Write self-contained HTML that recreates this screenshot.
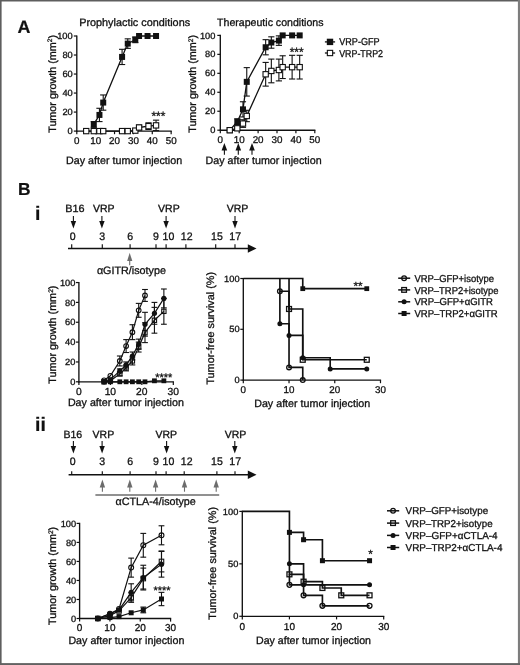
<!DOCTYPE html>
<html lang="en">
<head>
<meta charset="utf-8">
<title>Figure</title>
<style>
html,body{margin:0;padding:0;background:#fff;}
body{width:520px;height:665px;overflow:hidden;}
svg{display:block;font-family:'Liberation Sans', Arial, Helvetica, sans-serif;}
</style>
</head>
<body>
<svg width="520" height="665" viewBox="0 0 520 665" text-rendering="geometricPrecision">
<rect x="0" y="0" width="520" height="665" fill="#fff"/>
<g id="frame">
<rect x="0" y="0" width="520" height="1.5" fill="#5e5e5e"/>
<rect x="0" y="0" width="1.6" height="665" fill="#5e5e5e"/>
<rect x="517.9" y="0" width="2.1" height="665" fill="#7d7d7d"/>
<rect x="0" y="663.1" width="520" height="1.9" fill="#626262"/>
</g>
<text x="17.50" y="32.90" font-size="17.9" text-anchor="start" fill="#111" font-weight="700" stroke="#111" stroke-width="0.2">A</text>
<text x="79.20" y="26.00" font-size="10.7" text-anchor="start" fill="#111" stroke="#111" stroke-width="0.3" textLength="110.9" lengthAdjust="spacingAndGlyphs">Prophylactic conditions</text>
<text x="217.10" y="25.90" font-size="10.7" text-anchor="start" fill="#111" stroke="#111" stroke-width="0.3" textLength="106.4" lengthAdjust="spacingAndGlyphs">Therapeutic conditions</text>
<line x1="76.80" y1="35.40" x2="76.80" y2="131.70" stroke="#111" stroke-width="1.35" stroke-linecap="butt"/>
<line x1="76.20" y1="131.10" x2="171.75" y2="131.10" stroke="#111" stroke-width="1.35" stroke-linecap="butt"/>
<line x1="76.80" y1="131.10" x2="76.80" y2="134.20" stroke="#111" stroke-width="1.2" stroke-linecap="butt"/>
<text transform="translate(76.80,143.60) scale(1.0,1)" font-size="9.8" text-anchor="middle" fill="#111" stroke="#111" stroke-width="0.3">0</text>
<line x1="95.67" y1="131.10" x2="95.67" y2="134.20" stroke="#111" stroke-width="1.2" stroke-linecap="butt"/>
<text transform="translate(95.67,143.60) scale(1.0,1)" font-size="9.8" text-anchor="middle" fill="#111" stroke="#111" stroke-width="0.3">10</text>
<line x1="114.54" y1="131.10" x2="114.54" y2="134.20" stroke="#111" stroke-width="1.2" stroke-linecap="butt"/>
<text transform="translate(114.54,143.60) scale(1.0,1)" font-size="9.8" text-anchor="middle" fill="#111" stroke="#111" stroke-width="0.3">20</text>
<line x1="133.41" y1="131.10" x2="133.41" y2="134.20" stroke="#111" stroke-width="1.2" stroke-linecap="butt"/>
<text transform="translate(133.41,143.60) scale(1.0,1)" font-size="9.8" text-anchor="middle" fill="#111" stroke="#111" stroke-width="0.3">30</text>
<line x1="152.28" y1="131.10" x2="152.28" y2="134.20" stroke="#111" stroke-width="1.2" stroke-linecap="butt"/>
<text transform="translate(152.28,143.60) scale(1.0,1)" font-size="9.8" text-anchor="middle" fill="#111" stroke="#111" stroke-width="0.3">40</text>
<line x1="171.15" y1="131.10" x2="171.15" y2="134.20" stroke="#111" stroke-width="1.2" stroke-linecap="butt"/>
<text transform="translate(171.15,143.60) scale(1.0,1)" font-size="9.8" text-anchor="middle" fill="#111" stroke="#111" stroke-width="0.3">50</text>
<line x1="73.80" y1="131.10" x2="76.80" y2="131.10" stroke="#111" stroke-width="1.2" stroke-linecap="butt"/>
<text transform="translate(72.70,134.20) scale(1.03,1)" font-size="9.0" text-anchor="end" fill="#111" stroke="#111" stroke-width="0.3">0</text>
<line x1="73.80" y1="112.08" x2="76.80" y2="112.08" stroke="#111" stroke-width="1.2" stroke-linecap="butt"/>
<text transform="translate(72.70,115.18) scale(1.03,1)" font-size="9.0" text-anchor="end" fill="#111" stroke="#111" stroke-width="0.3">20</text>
<line x1="73.80" y1="93.06" x2="76.80" y2="93.06" stroke="#111" stroke-width="1.2" stroke-linecap="butt"/>
<text transform="translate(72.70,96.16) scale(1.03,1)" font-size="9.0" text-anchor="end" fill="#111" stroke="#111" stroke-width="0.3">40</text>
<line x1="73.80" y1="74.04" x2="76.80" y2="74.04" stroke="#111" stroke-width="1.2" stroke-linecap="butt"/>
<text transform="translate(72.70,77.14) scale(1.03,1)" font-size="9.0" text-anchor="end" fill="#111" stroke="#111" stroke-width="0.3">60</text>
<line x1="73.80" y1="55.02" x2="76.80" y2="55.02" stroke="#111" stroke-width="1.2" stroke-linecap="butt"/>
<text transform="translate(72.70,58.12) scale(1.03,1)" font-size="9.0" text-anchor="end" fill="#111" stroke="#111" stroke-width="0.3">80</text>
<line x1="73.80" y1="36.00" x2="76.80" y2="36.00" stroke="#111" stroke-width="1.2" stroke-linecap="butt"/>
<text transform="translate(72.70,39.10) scale(1.03,1)" font-size="9.0" text-anchor="end" fill="#111" stroke="#111" stroke-width="0.3">100</text>
<text transform="translate(56.00,132.80) rotate(-90)" font-size="10.7" text-anchor="start" fill="#111" stroke="#111" stroke-width="0.3" textLength="97.8" lengthAdjust="spacingAndGlyphs">Tumor growth (mm<tspan font-size="6.5" dy="-3.6">2</tspan><tspan dy="3.6">)</tspan></text>
<text x="66.10" y="163.90" font-size="10.7" text-anchor="start" fill="#111" stroke="#111" stroke-width="0.3" textLength="116.0" lengthAdjust="spacingAndGlyphs">Day after tumor injection</text>
<polyline points="93.78,124.44 99.44,114.93 103.22,102.57 122.09,56.92 127.75,43.61 135.30,39.80 139.07,36.00 147.56,36.00 156.05,36.00" fill="none" stroke="#111" stroke-width="1.3" stroke-linejoin="miter"/>
<line x1="93.78" y1="121.59" x2="93.78" y2="127.30" stroke="#111" stroke-width="1.1" stroke-linecap="butt"/>
<line x1="90.68" y1="121.59" x2="96.88" y2="121.59" stroke="#111" stroke-width="1.1" stroke-linecap="butt"/>
<line x1="90.68" y1="127.30" x2="96.88" y2="127.30" stroke="#111" stroke-width="1.1" stroke-linecap="butt"/>
<line x1="99.44" y1="108.28" x2="99.44" y2="121.59" stroke="#111" stroke-width="1.1" stroke-linecap="butt"/>
<line x1="96.34" y1="108.28" x2="102.54" y2="108.28" stroke="#111" stroke-width="1.1" stroke-linecap="butt"/>
<line x1="96.34" y1="121.59" x2="102.54" y2="121.59" stroke="#111" stroke-width="1.1" stroke-linecap="butt"/>
<line x1="103.22" y1="94.96" x2="103.22" y2="110.18" stroke="#111" stroke-width="1.1" stroke-linecap="butt"/>
<line x1="100.12" y1="94.96" x2="106.32" y2="94.96" stroke="#111" stroke-width="1.1" stroke-linecap="butt"/>
<line x1="100.12" y1="110.18" x2="106.32" y2="110.18" stroke="#111" stroke-width="1.1" stroke-linecap="butt"/>
<line x1="122.09" y1="49.31" x2="122.09" y2="64.53" stroke="#111" stroke-width="1.1" stroke-linecap="butt"/>
<line x1="118.99" y1="49.31" x2="125.19" y2="49.31" stroke="#111" stroke-width="1.1" stroke-linecap="butt"/>
<line x1="118.99" y1="64.53" x2="125.19" y2="64.53" stroke="#111" stroke-width="1.1" stroke-linecap="butt"/>
<line x1="127.75" y1="38.85" x2="127.75" y2="48.36" stroke="#111" stroke-width="1.1" stroke-linecap="butt"/>
<line x1="124.65" y1="38.85" x2="130.85" y2="38.85" stroke="#111" stroke-width="1.1" stroke-linecap="butt"/>
<line x1="124.65" y1="48.36" x2="130.85" y2="48.36" stroke="#111" stroke-width="1.1" stroke-linecap="butt"/>
<line x1="135.30" y1="36.95" x2="135.30" y2="42.66" stroke="#111" stroke-width="1.1" stroke-linecap="butt"/>
<line x1="132.20" y1="36.95" x2="138.40" y2="36.95" stroke="#111" stroke-width="1.1" stroke-linecap="butt"/>
<line x1="132.20" y1="42.66" x2="138.40" y2="42.66" stroke="#111" stroke-width="1.1" stroke-linecap="butt"/>
<rect x="90.78" y="121.44" width="6.00" height="6.00" fill="#111"/>
<rect x="96.44" y="111.93" width="6.00" height="6.00" fill="#111"/>
<rect x="100.22" y="99.57" width="6.00" height="6.00" fill="#111"/>
<rect x="119.09" y="53.92" width="6.00" height="6.00" fill="#111"/>
<rect x="124.75" y="40.61" width="6.00" height="6.00" fill="#111"/>
<rect x="132.30" y="36.80" width="6.00" height="6.00" fill="#111"/>
<rect x="136.07" y="33.00" width="6.00" height="6.00" fill="#111"/>
<rect x="144.56" y="33.00" width="6.00" height="6.00" fill="#111"/>
<rect x="153.05" y="33.00" width="6.00" height="6.00" fill="#111"/>
<polyline points="86.23,131.10 93.78,131.10 99.44,131.10 103.22,131.10 122.09,131.10 127.75,131.10 135.30,130.62 139.07,127.49 148.51,126.15 156.05,125.39" fill="none" stroke="#111" stroke-width="1.3" stroke-linejoin="miter"/>
<line x1="135.30" y1="129.20" x2="135.30" y2="131.10" stroke="#111" stroke-width="1.1" stroke-linecap="butt"/>
<line x1="132.20" y1="129.20" x2="138.40" y2="129.20" stroke="#111" stroke-width="1.1" stroke-linecap="butt"/>
<line x1="132.20" y1="131.10" x2="138.40" y2="131.10" stroke="#111" stroke-width="1.1" stroke-linecap="butt"/>
<line x1="139.07" y1="125.11" x2="139.07" y2="129.86" stroke="#111" stroke-width="1.1" stroke-linecap="butt"/>
<line x1="135.97" y1="125.11" x2="142.17" y2="125.11" stroke="#111" stroke-width="1.1" stroke-linecap="butt"/>
<line x1="135.97" y1="129.86" x2="142.17" y2="129.86" stroke="#111" stroke-width="1.1" stroke-linecap="butt"/>
<line x1="148.51" y1="122.83" x2="148.51" y2="129.48" stroke="#111" stroke-width="1.1" stroke-linecap="butt"/>
<line x1="145.41" y1="122.83" x2="151.61" y2="122.83" stroke="#111" stroke-width="1.1" stroke-linecap="butt"/>
<line x1="145.41" y1="129.48" x2="151.61" y2="129.48" stroke="#111" stroke-width="1.1" stroke-linecap="butt"/>
<line x1="156.05" y1="120.16" x2="156.05" y2="130.62" stroke="#111" stroke-width="1.1" stroke-linecap="butt"/>
<line x1="152.95" y1="120.16" x2="159.15" y2="120.16" stroke="#111" stroke-width="1.1" stroke-linecap="butt"/>
<line x1="152.95" y1="130.62" x2="159.15" y2="130.62" stroke="#111" stroke-width="1.1" stroke-linecap="butt"/>
<rect x="83.58" y="128.45" width="5.30" height="5.30" fill="#fff" stroke="#111" stroke-width="1.1"/>
<rect x="91.13" y="128.45" width="5.30" height="5.30" fill="#fff" stroke="#111" stroke-width="1.1"/>
<rect x="96.79" y="128.45" width="5.30" height="5.30" fill="#fff" stroke="#111" stroke-width="1.1"/>
<rect x="100.57" y="128.45" width="5.30" height="5.30" fill="#fff" stroke="#111" stroke-width="1.1"/>
<rect x="119.44" y="128.45" width="5.30" height="5.30" fill="#fff" stroke="#111" stroke-width="1.1"/>
<rect x="125.10" y="128.45" width="5.30" height="5.30" fill="#fff" stroke="#111" stroke-width="1.1"/>
<rect x="132.65" y="127.97" width="5.30" height="5.30" fill="#fff" stroke="#111" stroke-width="1.1"/>
<rect x="136.42" y="124.84" width="5.30" height="5.30" fill="#fff" stroke="#111" stroke-width="1.1"/>
<rect x="145.86" y="123.50" width="5.30" height="5.30" fill="#fff" stroke="#111" stroke-width="1.1"/>
<rect x="153.40" y="122.74" width="5.30" height="5.30" fill="#fff" stroke="#111" stroke-width="1.1"/>
<text x="158.40" y="120.30" font-size="12" text-anchor="middle" fill="#111" stroke="#111" stroke-width="0.3">***</text>
<line x1="220.30" y1="34.80" x2="220.30" y2="130.80" stroke="#111" stroke-width="1.35" stroke-linecap="butt"/>
<line x1="219.70" y1="130.20" x2="315.40" y2="130.20" stroke="#111" stroke-width="1.35" stroke-linecap="butt"/>
<line x1="220.30" y1="130.20" x2="220.30" y2="133.30" stroke="#111" stroke-width="1.2" stroke-linecap="butt"/>
<text transform="translate(220.30,142.90) scale(1.0,1)" font-size="9.8" text-anchor="middle" fill="#111" stroke="#111" stroke-width="0.3">0</text>
<line x1="239.20" y1="130.20" x2="239.20" y2="133.30" stroke="#111" stroke-width="1.2" stroke-linecap="butt"/>
<text transform="translate(239.20,142.90) scale(1.0,1)" font-size="9.8" text-anchor="middle" fill="#111" stroke="#111" stroke-width="0.3">10</text>
<line x1="258.10" y1="130.20" x2="258.10" y2="133.30" stroke="#111" stroke-width="1.2" stroke-linecap="butt"/>
<text transform="translate(258.10,142.90) scale(1.0,1)" font-size="9.8" text-anchor="middle" fill="#111" stroke="#111" stroke-width="0.3">20</text>
<line x1="277.00" y1="130.20" x2="277.00" y2="133.30" stroke="#111" stroke-width="1.2" stroke-linecap="butt"/>
<text transform="translate(277.00,142.90) scale(1.0,1)" font-size="9.8" text-anchor="middle" fill="#111" stroke="#111" stroke-width="0.3">30</text>
<line x1="295.90" y1="130.20" x2="295.90" y2="133.30" stroke="#111" stroke-width="1.2" stroke-linecap="butt"/>
<text transform="translate(295.90,142.90) scale(1.0,1)" font-size="9.8" text-anchor="middle" fill="#111" stroke="#111" stroke-width="0.3">40</text>
<line x1="314.80" y1="130.20" x2="314.80" y2="133.30" stroke="#111" stroke-width="1.2" stroke-linecap="butt"/>
<text transform="translate(314.80,142.90) scale(1.0,1)" font-size="9.8" text-anchor="middle" fill="#111" stroke="#111" stroke-width="0.3">50</text>
<line x1="217.30" y1="130.20" x2="220.30" y2="130.20" stroke="#111" stroke-width="1.2" stroke-linecap="butt"/>
<text transform="translate(215.40,133.30) scale(1.03,1)" font-size="9.0" text-anchor="end" fill="#111" stroke="#111" stroke-width="0.3">0</text>
<line x1="217.30" y1="111.24" x2="220.30" y2="111.24" stroke="#111" stroke-width="1.2" stroke-linecap="butt"/>
<text transform="translate(215.40,114.34) scale(1.03,1)" font-size="9.0" text-anchor="end" fill="#111" stroke="#111" stroke-width="0.3">20</text>
<line x1="217.30" y1="92.28" x2="220.30" y2="92.28" stroke="#111" stroke-width="1.2" stroke-linecap="butt"/>
<text transform="translate(215.40,95.38) scale(1.03,1)" font-size="9.0" text-anchor="end" fill="#111" stroke="#111" stroke-width="0.3">40</text>
<line x1="217.30" y1="73.32" x2="220.30" y2="73.32" stroke="#111" stroke-width="1.2" stroke-linecap="butt"/>
<text transform="translate(215.40,76.42) scale(1.03,1)" font-size="9.0" text-anchor="end" fill="#111" stroke="#111" stroke-width="0.3">60</text>
<line x1="217.30" y1="54.36" x2="220.30" y2="54.36" stroke="#111" stroke-width="1.2" stroke-linecap="butt"/>
<text transform="translate(215.40,57.46) scale(1.03,1)" font-size="9.0" text-anchor="end" fill="#111" stroke="#111" stroke-width="0.3">80</text>
<line x1="217.30" y1="35.40" x2="220.30" y2="35.40" stroke="#111" stroke-width="1.2" stroke-linecap="butt"/>
<text transform="translate(215.40,38.50) scale(1.03,1)" font-size="9.0" text-anchor="end" fill="#111" stroke="#111" stroke-width="0.3">100</text>
<text transform="translate(196.40,132.80) rotate(-90)" font-size="10.7" text-anchor="start" fill="#111" stroke="#111" stroke-width="0.3" textLength="97.8" lengthAdjust="spacingAndGlyphs">Tumor growth (mm<tspan font-size="6.5" dy="-3.6">2</tspan><tspan dy="3.6">)</tspan></text>
<text x="205.60" y="164.20" font-size="10.7" text-anchor="start" fill="#111" stroke="#111" stroke-width="0.3" textLength="116.0" lengthAdjust="spacingAndGlyphs">Day after tumor injection</text>
<polyline points="229.75,130.20 237.31,121.67 242.98,109.34 246.76,81.85 265.66,47.25 271.33,42.51 278.89,40.61 282.67,35.40 292.12,35.40 299.68,35.40" fill="none" stroke="#111" stroke-width="1.3" stroke-linejoin="miter"/>
<line x1="237.31" y1="118.82" x2="237.31" y2="124.51" stroke="#111" stroke-width="1.1" stroke-linecap="butt"/>
<line x1="234.21" y1="118.82" x2="240.41" y2="118.82" stroke="#111" stroke-width="1.1" stroke-linecap="butt"/>
<line x1="234.21" y1="124.51" x2="240.41" y2="124.51" stroke="#111" stroke-width="1.1" stroke-linecap="butt"/>
<line x1="242.98" y1="101.76" x2="242.98" y2="116.93" stroke="#111" stroke-width="1.1" stroke-linecap="butt"/>
<line x1="239.88" y1="101.76" x2="246.08" y2="101.76" stroke="#111" stroke-width="1.1" stroke-linecap="butt"/>
<line x1="239.88" y1="116.93" x2="246.08" y2="116.93" stroke="#111" stroke-width="1.1" stroke-linecap="butt"/>
<line x1="246.76" y1="67.63" x2="246.76" y2="96.07" stroke="#111" stroke-width="1.1" stroke-linecap="butt"/>
<line x1="243.66" y1="67.63" x2="249.86" y2="67.63" stroke="#111" stroke-width="1.1" stroke-linecap="butt"/>
<line x1="243.66" y1="96.07" x2="249.86" y2="96.07" stroke="#111" stroke-width="1.1" stroke-linecap="butt"/>
<line x1="265.66" y1="39.67" x2="265.66" y2="54.83" stroke="#111" stroke-width="1.1" stroke-linecap="butt"/>
<line x1="262.56" y1="39.67" x2="268.76" y2="39.67" stroke="#111" stroke-width="1.1" stroke-linecap="butt"/>
<line x1="262.56" y1="54.83" x2="268.76" y2="54.83" stroke="#111" stroke-width="1.1" stroke-linecap="butt"/>
<line x1="271.33" y1="36.82" x2="271.33" y2="48.20" stroke="#111" stroke-width="1.1" stroke-linecap="butt"/>
<line x1="268.23" y1="36.82" x2="274.43" y2="36.82" stroke="#111" stroke-width="1.1" stroke-linecap="butt"/>
<line x1="268.23" y1="48.20" x2="274.43" y2="48.20" stroke="#111" stroke-width="1.1" stroke-linecap="butt"/>
<line x1="278.89" y1="35.87" x2="278.89" y2="45.35" stroke="#111" stroke-width="1.1" stroke-linecap="butt"/>
<line x1="275.79" y1="35.87" x2="281.99" y2="35.87" stroke="#111" stroke-width="1.1" stroke-linecap="butt"/>
<line x1="275.79" y1="45.35" x2="281.99" y2="45.35" stroke="#111" stroke-width="1.1" stroke-linecap="butt"/>
<rect x="226.75" y="127.20" width="6.00" height="6.00" fill="#111"/>
<rect x="234.31" y="118.67" width="6.00" height="6.00" fill="#111"/>
<rect x="239.98" y="106.34" width="6.00" height="6.00" fill="#111"/>
<rect x="243.76" y="78.85" width="6.00" height="6.00" fill="#111"/>
<rect x="262.66" y="44.25" width="6.00" height="6.00" fill="#111"/>
<rect x="268.33" y="39.51" width="6.00" height="6.00" fill="#111"/>
<rect x="275.89" y="37.61" width="6.00" height="6.00" fill="#111"/>
<rect x="279.67" y="32.40" width="6.00" height="6.00" fill="#111"/>
<rect x="289.12" y="32.40" width="6.00" height="6.00" fill="#111"/>
<rect x="296.68" y="32.40" width="6.00" height="6.00" fill="#111"/>
<polyline points="229.75,130.20 237.31,128.30 242.98,123.56 246.76,115.98 265.66,74.27 271.33,70.95 278.89,70.00 282.67,67.16 292.12,67.16 299.68,67.16" fill="none" stroke="#111" stroke-width="1.3" stroke-linejoin="miter"/>
<line x1="237.31" y1="126.41" x2="237.31" y2="130.20" stroke="#111" stroke-width="1.1" stroke-linecap="butt"/>
<line x1="234.21" y1="126.41" x2="240.41" y2="126.41" stroke="#111" stroke-width="1.1" stroke-linecap="butt"/>
<line x1="234.21" y1="130.20" x2="240.41" y2="130.20" stroke="#111" stroke-width="1.1" stroke-linecap="butt"/>
<line x1="242.98" y1="119.77" x2="242.98" y2="127.36" stroke="#111" stroke-width="1.1" stroke-linecap="butt"/>
<line x1="239.88" y1="119.77" x2="246.08" y2="119.77" stroke="#111" stroke-width="1.1" stroke-linecap="butt"/>
<line x1="239.88" y1="127.36" x2="246.08" y2="127.36" stroke="#111" stroke-width="1.1" stroke-linecap="butt"/>
<line x1="246.76" y1="110.29" x2="246.76" y2="121.67" stroke="#111" stroke-width="1.1" stroke-linecap="butt"/>
<line x1="243.66" y1="110.29" x2="249.86" y2="110.29" stroke="#111" stroke-width="1.1" stroke-linecap="butt"/>
<line x1="243.66" y1="121.67" x2="249.86" y2="121.67" stroke="#111" stroke-width="1.1" stroke-linecap="butt"/>
<line x1="265.66" y1="62.42" x2="265.66" y2="86.12" stroke="#111" stroke-width="1.1" stroke-linecap="butt"/>
<line x1="262.56" y1="62.42" x2="268.76" y2="62.42" stroke="#111" stroke-width="1.1" stroke-linecap="butt"/>
<line x1="262.56" y1="86.12" x2="268.76" y2="86.12" stroke="#111" stroke-width="1.1" stroke-linecap="butt"/>
<line x1="271.33" y1="59.10" x2="271.33" y2="82.80" stroke="#111" stroke-width="1.1" stroke-linecap="butt"/>
<line x1="268.23" y1="59.10" x2="274.43" y2="59.10" stroke="#111" stroke-width="1.1" stroke-linecap="butt"/>
<line x1="268.23" y1="82.80" x2="274.43" y2="82.80" stroke="#111" stroke-width="1.1" stroke-linecap="butt"/>
<line x1="278.89" y1="59.10" x2="278.89" y2="80.90" stroke="#111" stroke-width="1.1" stroke-linecap="butt"/>
<line x1="275.79" y1="59.10" x2="281.99" y2="59.10" stroke="#111" stroke-width="1.1" stroke-linecap="butt"/>
<line x1="275.79" y1="80.90" x2="281.99" y2="80.90" stroke="#111" stroke-width="1.1" stroke-linecap="butt"/>
<line x1="282.67" y1="55.78" x2="282.67" y2="78.53" stroke="#111" stroke-width="1.1" stroke-linecap="butt"/>
<line x1="279.57" y1="55.78" x2="285.77" y2="55.78" stroke="#111" stroke-width="1.1" stroke-linecap="butt"/>
<line x1="279.57" y1="78.53" x2="285.77" y2="78.53" stroke="#111" stroke-width="1.1" stroke-linecap="butt"/>
<line x1="292.12" y1="55.31" x2="292.12" y2="79.01" stroke="#111" stroke-width="1.1" stroke-linecap="butt"/>
<line x1="289.02" y1="55.31" x2="295.22" y2="55.31" stroke="#111" stroke-width="1.1" stroke-linecap="butt"/>
<line x1="289.02" y1="79.01" x2="295.22" y2="79.01" stroke="#111" stroke-width="1.1" stroke-linecap="butt"/>
<line x1="299.68" y1="55.31" x2="299.68" y2="79.01" stroke="#111" stroke-width="1.1" stroke-linecap="butt"/>
<line x1="296.58" y1="55.31" x2="302.78" y2="55.31" stroke="#111" stroke-width="1.1" stroke-linecap="butt"/>
<line x1="296.58" y1="79.01" x2="302.78" y2="79.01" stroke="#111" stroke-width="1.1" stroke-linecap="butt"/>
<rect x="227.10" y="127.55" width="5.30" height="5.30" fill="#fff" stroke="#111" stroke-width="1.1"/>
<rect x="234.66" y="125.65" width="5.30" height="5.30" fill="#fff" stroke="#111" stroke-width="1.1"/>
<rect x="240.33" y="120.91" width="5.30" height="5.30" fill="#fff" stroke="#111" stroke-width="1.1"/>
<rect x="244.11" y="113.33" width="5.30" height="5.30" fill="#fff" stroke="#111" stroke-width="1.1"/>
<rect x="263.01" y="71.62" width="5.30" height="5.30" fill="#fff" stroke="#111" stroke-width="1.1"/>
<rect x="268.68" y="68.30" width="5.30" height="5.30" fill="#fff" stroke="#111" stroke-width="1.1"/>
<rect x="276.24" y="67.35" width="5.30" height="5.30" fill="#fff" stroke="#111" stroke-width="1.1"/>
<rect x="280.02" y="64.51" width="5.30" height="5.30" fill="#fff" stroke="#111" stroke-width="1.1"/>
<rect x="289.47" y="64.51" width="5.30" height="5.30" fill="#fff" stroke="#111" stroke-width="1.1"/>
<rect x="297.03" y="64.51" width="5.30" height="5.30" fill="#fff" stroke="#111" stroke-width="1.1"/>
<text x="296.70" y="56.20" font-size="12" text-anchor="middle" fill="#111" stroke="#111" stroke-width="0.3">***</text>
<line x1="224.40" y1="150.10" x2="224.40" y2="154.80" stroke="#111" stroke-width="1.1" stroke-linecap="butt"/>
<polygon points="224.40,143.00 221.60,150.60 227.20,150.60" fill="#111"/>
<line x1="238.30" y1="150.10" x2="238.30" y2="154.80" stroke="#111" stroke-width="1.1" stroke-linecap="butt"/>
<polygon points="238.30,143.00 235.50,150.60 241.10,150.60" fill="#111"/>
<line x1="252.00" y1="150.10" x2="252.00" y2="154.80" stroke="#111" stroke-width="1.1" stroke-linecap="butt"/>
<polygon points="252.00,143.00 249.20,150.60 254.80,150.60" fill="#111"/>
<line x1="324.90" y1="41.90" x2="335.10" y2="41.90" stroke="#111" stroke-width="1.3" stroke-linecap="butt"/>
<rect x="326.80" y="38.70" width="6.40" height="6.40" fill="#111"/>
<text x="339.20" y="45.20" font-size="10.0" text-anchor="start" fill="#111" stroke="#111" stroke-width="0.3" textLength="40.4" lengthAdjust="spacingAndGlyphs">VRP-GFP</text>
<line x1="324.90" y1="53.00" x2="335.10" y2="53.00" stroke="#111" stroke-width="1.3" stroke-linecap="butt"/>
<rect x="327.35" y="50.35" width="5.30" height="5.30" fill="#fff" stroke="#111" stroke-width="1.1"/>
<text x="339.20" y="56.50" font-size="10.0" text-anchor="start" fill="#111" stroke="#111" stroke-width="0.3" textLength="43.8" lengthAdjust="spacingAndGlyphs">VRP-TRP2</text>
<text x="17.90" y="195.40" font-size="17.4" text-anchor="start" fill="#111" font-weight="700" stroke="#111" stroke-width="0.2">B</text>
<text x="34.90" y="220.20" font-size="19.5" text-anchor="start" fill="#111" font-weight="700" stroke="#111" stroke-width="0.2">i</text>
<line x1="68.00" y1="248.50" x2="249.00" y2="248.50" stroke="#111" stroke-width="1.6" stroke-linecap="butt"/>
<polygon points="256.5,248.50 247.8,244.20 247.8,252.80" fill="#111"/>
<line x1="71.70" y1="244.20" x2="71.70" y2="248.50" stroke="#111" stroke-width="1.15" stroke-linecap="butt"/>
<line x1="102.30" y1="244.20" x2="102.30" y2="248.50" stroke="#111" stroke-width="1.15" stroke-linecap="butt"/>
<line x1="130.10" y1="244.20" x2="130.10" y2="248.50" stroke="#111" stroke-width="1.15" stroke-linecap="butt"/>
<line x1="156.00" y1="244.20" x2="156.00" y2="248.50" stroke="#111" stroke-width="1.15" stroke-linecap="butt"/>
<line x1="166.10" y1="244.20" x2="166.10" y2="248.50" stroke="#111" stroke-width="1.15" stroke-linecap="butt"/>
<line x1="185.90" y1="244.20" x2="185.90" y2="248.50" stroke="#111" stroke-width="1.15" stroke-linecap="butt"/>
<line x1="215.70" y1="244.20" x2="215.70" y2="248.50" stroke="#111" stroke-width="1.15" stroke-linecap="butt"/>
<line x1="235.00" y1="244.20" x2="235.00" y2="248.50" stroke="#111" stroke-width="1.15" stroke-linecap="butt"/>
<text transform="translate(72.60,239.90) scale(0.97,1)" font-size="10.9" text-anchor="middle" fill="#111" stroke="#111" stroke-width="0.3">0</text>
<text transform="translate(102.30,239.90) scale(0.97,1)" font-size="10.9" text-anchor="middle" fill="#111" stroke="#111" stroke-width="0.3">3</text>
<text transform="translate(130.10,239.90) scale(0.97,1)" font-size="10.9" text-anchor="middle" fill="#111" stroke="#111" stroke-width="0.3">6</text>
<text transform="translate(156.00,239.90) scale(0.97,1)" font-size="10.9" text-anchor="middle" fill="#111" stroke="#111" stroke-width="0.3">9</text>
<text transform="translate(168.50,239.90) scale(0.97,1)" font-size="10.9" text-anchor="middle" fill="#111" stroke="#111" stroke-width="0.3">10</text>
<text transform="translate(186.70,239.90) scale(0.97,1)" font-size="10.9" text-anchor="middle" fill="#111" stroke="#111" stroke-width="0.3">12</text>
<text transform="translate(216.90,239.90) scale(0.97,1)" font-size="10.9" text-anchor="middle" fill="#111" stroke="#111" stroke-width="0.3">15</text>
<text transform="translate(235.20,239.90) scale(0.97,1)" font-size="10.9" text-anchor="middle" fill="#111" stroke="#111" stroke-width="0.3">17</text>
<text x="65.20" y="211.80" font-size="10.5" text-anchor="start" fill="#111" stroke="#111" stroke-width="0.3" textLength="19.3" lengthAdjust="spacingAndGlyphs">B16</text>
<text x="92.90" y="211.80" font-size="10.5" text-anchor="start" fill="#111" stroke="#111" stroke-width="0.3" textLength="21.6" lengthAdjust="spacingAndGlyphs">VRP</text>
<text x="158.10" y="211.80" font-size="10.5" text-anchor="start" fill="#111" stroke="#111" stroke-width="0.3" textLength="21.6" lengthAdjust="spacingAndGlyphs">VRP</text>
<text x="226.70" y="211.80" font-size="10.5" text-anchor="start" fill="#111" stroke="#111" stroke-width="0.3" textLength="21.6" lengthAdjust="spacingAndGlyphs">VRP</text>
<line x1="73.40" y1="215.90" x2="73.40" y2="221.50" stroke="#111" stroke-width="1.1" stroke-linecap="butt"/>
<polygon points="73.40,228.60 70.70,221.00 76.10,221.00" fill="#111"/>
<line x1="101.90" y1="215.90" x2="101.90" y2="221.50" stroke="#111" stroke-width="1.1" stroke-linecap="butt"/>
<polygon points="101.90,228.60 99.20,221.00 104.60,221.00" fill="#111"/>
<line x1="166.10" y1="215.90" x2="166.10" y2="221.50" stroke="#111" stroke-width="1.1" stroke-linecap="butt"/>
<polygon points="166.10,228.60 163.40,221.00 168.80,221.00" fill="#111"/>
<line x1="235.00" y1="215.90" x2="235.00" y2="221.50" stroke="#111" stroke-width="1.1" stroke-linecap="butt"/>
<polygon points="235.00,228.60 232.30,221.00 237.70,221.00" fill="#111"/>
<line x1="129.70" y1="260.50" x2="129.70" y2="265.30" stroke="#6c6c6c" stroke-width="1.1" stroke-linecap="butt"/>
<polygon points="129.70,252.80 127.10,261.00 132.30,261.00" fill="#6c6c6c"/>
<text x="96.90" y="274.30" font-size="10.7" text-anchor="start" fill="#111" stroke="#111" stroke-width="0.3" textLength="69.0" lengthAdjust="spacingAndGlyphs">αGITR/isotype</text>
<text x="35.00" y="431.00" font-size="19.5" text-anchor="start" fill="#111" font-weight="700" stroke="#111" stroke-width="0.2">ii</text>
<line x1="68.60" y1="474.75" x2="249.00" y2="474.75" stroke="#111" stroke-width="1.6" stroke-linecap="butt"/>
<polygon points="256.5,474.75 247.8,470.45 247.8,479.05" fill="#111"/>
<line x1="71.70" y1="471.15" x2="71.70" y2="474.75" stroke="#111" stroke-width="1.15" stroke-linecap="butt"/>
<line x1="102.30" y1="471.15" x2="102.30" y2="474.75" stroke="#111" stroke-width="1.15" stroke-linecap="butt"/>
<line x1="130.10" y1="471.15" x2="130.10" y2="474.75" stroke="#111" stroke-width="1.15" stroke-linecap="butt"/>
<line x1="156.00" y1="471.15" x2="156.00" y2="474.75" stroke="#111" stroke-width="1.15" stroke-linecap="butt"/>
<line x1="166.10" y1="471.15" x2="166.10" y2="474.75" stroke="#111" stroke-width="1.15" stroke-linecap="butt"/>
<line x1="184.20" y1="471.15" x2="184.20" y2="474.75" stroke="#111" stroke-width="1.15" stroke-linecap="butt"/>
<line x1="216.90" y1="471.15" x2="216.90" y2="474.75" stroke="#111" stroke-width="1.15" stroke-linecap="butt"/>
<line x1="235.00" y1="471.15" x2="235.00" y2="474.75" stroke="#111" stroke-width="1.15" stroke-linecap="butt"/>
<text transform="translate(72.60,464.80) scale(0.97,1)" font-size="10.9" text-anchor="middle" fill="#111" stroke="#111" stroke-width="0.3">0</text>
<text transform="translate(102.30,464.80) scale(0.97,1)" font-size="10.9" text-anchor="middle" fill="#111" stroke="#111" stroke-width="0.3">3</text>
<text transform="translate(130.10,464.80) scale(0.97,1)" font-size="10.9" text-anchor="middle" fill="#111" stroke="#111" stroke-width="0.3">6</text>
<text transform="translate(156.00,464.80) scale(0.97,1)" font-size="10.9" text-anchor="middle" fill="#111" stroke="#111" stroke-width="0.3">9</text>
<text transform="translate(168.50,464.80) scale(0.97,1)" font-size="10.9" text-anchor="middle" fill="#111" stroke="#111" stroke-width="0.3">10</text>
<text transform="translate(186.70,464.80) scale(0.97,1)" font-size="10.9" text-anchor="middle" fill="#111" stroke="#111" stroke-width="0.3">12</text>
<text transform="translate(216.90,464.80) scale(0.97,1)" font-size="10.9" text-anchor="middle" fill="#111" stroke="#111" stroke-width="0.3">15</text>
<text transform="translate(235.20,464.80) scale(0.97,1)" font-size="10.9" text-anchor="middle" fill="#111" stroke="#111" stroke-width="0.3">17</text>
<text x="63.40" y="437.70" font-size="10.5" text-anchor="start" fill="#111" stroke="#111" stroke-width="0.3" textLength="18.8" lengthAdjust="spacingAndGlyphs">B16</text>
<text x="92.60" y="437.70" font-size="10.5" text-anchor="start" fill="#111" stroke="#111" stroke-width="0.3" textLength="21.6" lengthAdjust="spacingAndGlyphs">VRP</text>
<text x="155.50" y="437.70" font-size="10.5" text-anchor="start" fill="#111" stroke="#111" stroke-width="0.3" textLength="21.6" lengthAdjust="spacingAndGlyphs">VRP</text>
<text x="224.70" y="437.70" font-size="10.5" text-anchor="start" fill="#111" stroke="#111" stroke-width="0.3" textLength="21.6" lengthAdjust="spacingAndGlyphs">VRP</text>
<line x1="73.40" y1="440.90" x2="73.40" y2="446.50" stroke="#111" stroke-width="1.1" stroke-linecap="butt"/>
<polygon points="73.40,453.60 70.70,446.00 76.10,446.00" fill="#111"/>
<line x1="102.10" y1="440.90" x2="102.10" y2="446.50" stroke="#111" stroke-width="1.1" stroke-linecap="butt"/>
<polygon points="102.10,453.60 99.40,446.00 104.80,446.00" fill="#111"/>
<line x1="166.60" y1="440.90" x2="166.60" y2="446.50" stroke="#111" stroke-width="1.1" stroke-linecap="butt"/>
<polygon points="166.60,453.60 163.90,446.00 169.30,446.00" fill="#111"/>
<line x1="234.80" y1="440.90" x2="234.80" y2="446.50" stroke="#111" stroke-width="1.1" stroke-linecap="butt"/>
<polygon points="234.80,453.60 232.10,446.00 237.50,446.00" fill="#111"/>
<line x1="102.40" y1="486.90" x2="102.40" y2="491.70" stroke="#6c6c6c" stroke-width="1.1" stroke-linecap="butt"/>
<polygon points="102.40,479.60 99.70,487.40 105.10,487.40" fill="#6c6c6c"/>
<line x1="129.80" y1="486.90" x2="129.80" y2="491.70" stroke="#6c6c6c" stroke-width="1.1" stroke-linecap="butt"/>
<polygon points="129.80,479.60 127.10,487.40 132.50,487.40" fill="#6c6c6c"/>
<line x1="155.60" y1="486.90" x2="155.60" y2="491.70" stroke="#6c6c6c" stroke-width="1.1" stroke-linecap="butt"/>
<polygon points="155.60,479.60 152.90,487.40 158.30,487.40" fill="#6c6c6c"/>
<line x1="184.50" y1="486.90" x2="184.50" y2="491.70" stroke="#6c6c6c" stroke-width="1.1" stroke-linecap="butt"/>
<polygon points="184.50,479.60 181.80,487.40 187.20,487.40" fill="#6c6c6c"/>
<line x1="216.20" y1="486.90" x2="216.20" y2="491.70" stroke="#6c6c6c" stroke-width="1.1" stroke-linecap="butt"/>
<polygon points="216.20,479.60 213.50,487.40 218.90,487.40" fill="#6c6c6c"/>
<line x1="95.40" y1="495.00" x2="219.20" y2="495.00" stroke="#6c6c6c" stroke-width="1.4" stroke-linecap="butt"/>
<text x="115.60" y="505.00" font-size="10.7" text-anchor="start" fill="#111" stroke="#111" stroke-width="0.3" textLength="80.2" lengthAdjust="spacingAndGlyphs">αCTLA-4/isotype</text>
<line x1="78.90" y1="281.95" x2="78.90" y2="382.40" stroke="#111" stroke-width="1.35" stroke-linecap="butt"/>
<line x1="78.30" y1="381.80" x2="173.91" y2="381.80" stroke="#111" stroke-width="1.35" stroke-linecap="butt"/>
<line x1="78.90" y1="381.80" x2="78.90" y2="384.90" stroke="#111" stroke-width="1.2" stroke-linecap="butt"/>
<text transform="translate(78.90,394.70) scale(1.0,1)" font-size="10.3" text-anchor="middle" fill="#111" stroke="#111" stroke-width="0.3">0</text>
<line x1="110.37" y1="381.80" x2="110.37" y2="384.90" stroke="#111" stroke-width="1.2" stroke-linecap="butt"/>
<text transform="translate(110.37,394.70) scale(1.0,1)" font-size="10.3" text-anchor="middle" fill="#111" stroke="#111" stroke-width="0.3">10</text>
<line x1="141.84" y1="381.80" x2="141.84" y2="384.90" stroke="#111" stroke-width="1.2" stroke-linecap="butt"/>
<text transform="translate(141.84,394.70) scale(1.0,1)" font-size="10.3" text-anchor="middle" fill="#111" stroke="#111" stroke-width="0.3">20</text>
<line x1="173.31" y1="381.80" x2="173.31" y2="384.90" stroke="#111" stroke-width="1.2" stroke-linecap="butt"/>
<text transform="translate(173.31,394.70) scale(1.0,1)" font-size="10.3" text-anchor="middle" fill="#111" stroke="#111" stroke-width="0.3">30</text>
<line x1="75.90" y1="381.80" x2="78.90" y2="381.80" stroke="#111" stroke-width="1.2" stroke-linecap="butt"/>
<text transform="translate(75.40,384.90) scale(1.03,1)" font-size="9.0" text-anchor="end" fill="#111" stroke="#111" stroke-width="0.3">0</text>
<line x1="75.90" y1="361.95" x2="78.90" y2="361.95" stroke="#111" stroke-width="1.2" stroke-linecap="butt"/>
<text transform="translate(75.40,365.05) scale(1.03,1)" font-size="9.0" text-anchor="end" fill="#111" stroke="#111" stroke-width="0.3">20</text>
<line x1="75.90" y1="342.10" x2="78.90" y2="342.10" stroke="#111" stroke-width="1.2" stroke-linecap="butt"/>
<text transform="translate(75.40,345.20) scale(1.03,1)" font-size="9.0" text-anchor="end" fill="#111" stroke="#111" stroke-width="0.3">40</text>
<line x1="75.90" y1="322.25" x2="78.90" y2="322.25" stroke="#111" stroke-width="1.2" stroke-linecap="butt"/>
<text transform="translate(75.40,325.35) scale(1.03,1)" font-size="9.0" text-anchor="end" fill="#111" stroke="#111" stroke-width="0.3">60</text>
<line x1="75.90" y1="302.40" x2="78.90" y2="302.40" stroke="#111" stroke-width="1.2" stroke-linecap="butt"/>
<text transform="translate(75.40,305.50) scale(1.03,1)" font-size="9.0" text-anchor="end" fill="#111" stroke="#111" stroke-width="0.3">80</text>
<line x1="75.90" y1="282.55" x2="78.90" y2="282.55" stroke="#111" stroke-width="1.2" stroke-linecap="butt"/>
<text transform="translate(75.40,285.65) scale(1.03,1)" font-size="9.0" text-anchor="end" fill="#111" stroke="#111" stroke-width="0.3">100</text>
<text transform="translate(56.40,383.70) rotate(-90)" font-size="10.7" text-anchor="start" fill="#111" stroke="#111" stroke-width="0.3" textLength="98.1" lengthAdjust="spacingAndGlyphs">Tumor growth (mm<tspan font-size="6.5" dy="-3.6">2</tspan><tspan dy="3.6">)</tspan></text>
<text x="67.90" y="406.40" font-size="10.7" text-anchor="start" fill="#111" stroke="#111" stroke-width="0.3" textLength="116.0" lengthAdjust="spacingAndGlyphs">Day after tumor injection</text>
<polyline points="104.08,380.31 110.37,375.85 119.81,360.96 126.11,346.07 132.40,332.18 138.69,310.34 144.99,295.45" fill="none" stroke="#111" stroke-width="1.2" stroke-linejoin="miter"/>
<line x1="119.81" y1="356.00" x2="119.81" y2="365.92" stroke="#111" stroke-width="1.1" stroke-linecap="butt"/>
<line x1="116.91" y1="356.00" x2="122.71" y2="356.00" stroke="#111" stroke-width="1.1" stroke-linecap="butt"/>
<line x1="116.91" y1="365.92" x2="122.71" y2="365.92" stroke="#111" stroke-width="1.1" stroke-linecap="butt"/>
<line x1="126.11" y1="339.62" x2="126.11" y2="352.52" stroke="#111" stroke-width="1.1" stroke-linecap="butt"/>
<line x1="123.20" y1="339.62" x2="129.00" y2="339.62" stroke="#111" stroke-width="1.1" stroke-linecap="butt"/>
<line x1="123.20" y1="352.52" x2="129.00" y2="352.52" stroke="#111" stroke-width="1.1" stroke-linecap="butt"/>
<line x1="132.40" y1="324.73" x2="132.40" y2="339.62" stroke="#111" stroke-width="1.1" stroke-linecap="butt"/>
<line x1="129.50" y1="324.73" x2="135.30" y2="324.73" stroke="#111" stroke-width="1.1" stroke-linecap="butt"/>
<line x1="129.50" y1="339.62" x2="135.30" y2="339.62" stroke="#111" stroke-width="1.1" stroke-linecap="butt"/>
<line x1="138.69" y1="303.39" x2="138.69" y2="317.29" stroke="#111" stroke-width="1.1" stroke-linecap="butt"/>
<line x1="135.79" y1="303.39" x2="141.59" y2="303.39" stroke="#111" stroke-width="1.1" stroke-linecap="butt"/>
<line x1="135.79" y1="317.29" x2="141.59" y2="317.29" stroke="#111" stroke-width="1.1" stroke-linecap="butt"/>
<line x1="144.99" y1="289.50" x2="144.99" y2="301.41" stroke="#111" stroke-width="1.1" stroke-linecap="butt"/>
<line x1="142.09" y1="289.50" x2="147.89" y2="289.50" stroke="#111" stroke-width="1.1" stroke-linecap="butt"/>
<line x1="142.09" y1="301.41" x2="147.89" y2="301.41" stroke="#111" stroke-width="1.1" stroke-linecap="butt"/>
<circle cx="104.08" cy="380.31" r="2.35" fill="none" stroke="#111" stroke-width="1.1"/>
<circle cx="110.37" cy="375.85" r="2.35" fill="none" stroke="#111" stroke-width="1.1"/>
<circle cx="119.81" cy="360.96" r="2.35" fill="none" stroke="#111" stroke-width="1.1"/>
<circle cx="126.11" cy="346.07" r="2.35" fill="none" stroke="#111" stroke-width="1.1"/>
<circle cx="132.40" cy="332.18" r="2.35" fill="none" stroke="#111" stroke-width="1.1"/>
<circle cx="138.69" cy="310.34" r="2.35" fill="none" stroke="#111" stroke-width="1.1"/>
<circle cx="144.99" cy="295.45" r="2.35" fill="none" stroke="#111" stroke-width="1.1"/>
<polyline points="104.08,381.80 110.37,380.81 119.81,373.86 126.11,367.91 132.40,360.96 138.69,347.06 144.99,332.67 154.43,320.26 163.87,311.33" fill="none" stroke="#111" stroke-width="1.2" stroke-linejoin="miter"/>
<line x1="119.81" y1="371.88" x2="119.81" y2="375.85" stroke="#111" stroke-width="1.1" stroke-linecap="butt"/>
<line x1="116.91" y1="371.88" x2="122.71" y2="371.88" stroke="#111" stroke-width="1.1" stroke-linecap="butt"/>
<line x1="116.91" y1="375.85" x2="122.71" y2="375.85" stroke="#111" stroke-width="1.1" stroke-linecap="butt"/>
<line x1="126.11" y1="364.93" x2="126.11" y2="370.88" stroke="#111" stroke-width="1.1" stroke-linecap="butt"/>
<line x1="123.20" y1="364.93" x2="129.00" y2="364.93" stroke="#111" stroke-width="1.1" stroke-linecap="butt"/>
<line x1="123.20" y1="370.88" x2="129.00" y2="370.88" stroke="#111" stroke-width="1.1" stroke-linecap="butt"/>
<line x1="132.40" y1="356.99" x2="132.40" y2="364.93" stroke="#111" stroke-width="1.1" stroke-linecap="butt"/>
<line x1="129.50" y1="356.99" x2="135.30" y2="356.99" stroke="#111" stroke-width="1.1" stroke-linecap="butt"/>
<line x1="129.50" y1="364.93" x2="135.30" y2="364.93" stroke="#111" stroke-width="1.1" stroke-linecap="butt"/>
<line x1="138.69" y1="342.10" x2="138.69" y2="352.03" stroke="#111" stroke-width="1.1" stroke-linecap="butt"/>
<line x1="135.79" y1="342.10" x2="141.59" y2="342.10" stroke="#111" stroke-width="1.1" stroke-linecap="butt"/>
<line x1="135.79" y1="352.03" x2="141.59" y2="352.03" stroke="#111" stroke-width="1.1" stroke-linecap="butt"/>
<line x1="144.99" y1="322.75" x2="144.99" y2="342.60" stroke="#111" stroke-width="1.1" stroke-linecap="butt"/>
<line x1="142.09" y1="322.75" x2="147.89" y2="322.75" stroke="#111" stroke-width="1.1" stroke-linecap="butt"/>
<line x1="142.09" y1="342.60" x2="147.89" y2="342.60" stroke="#111" stroke-width="1.1" stroke-linecap="butt"/>
<line x1="154.43" y1="307.36" x2="154.43" y2="333.17" stroke="#111" stroke-width="1.1" stroke-linecap="butt"/>
<line x1="151.53" y1="307.36" x2="157.33" y2="307.36" stroke="#111" stroke-width="1.1" stroke-linecap="butt"/>
<line x1="151.53" y1="333.17" x2="157.33" y2="333.17" stroke="#111" stroke-width="1.1" stroke-linecap="butt"/>
<line x1="163.87" y1="298.43" x2="163.87" y2="324.24" stroke="#111" stroke-width="1.1" stroke-linecap="butt"/>
<line x1="160.97" y1="298.43" x2="166.77" y2="298.43" stroke="#111" stroke-width="1.1" stroke-linecap="butt"/>
<line x1="160.97" y1="324.24" x2="166.77" y2="324.24" stroke="#111" stroke-width="1.1" stroke-linecap="butt"/>
<rect x="101.93" y="379.65" width="4.30" height="4.30" fill="none" stroke="#111" stroke-width="1.1"/>
<rect x="108.22" y="378.66" width="4.30" height="4.30" fill="none" stroke="#111" stroke-width="1.1"/>
<rect x="117.66" y="371.71" width="4.30" height="4.30" fill="none" stroke="#111" stroke-width="1.1"/>
<rect x="123.95" y="365.76" width="4.30" height="4.30" fill="none" stroke="#111" stroke-width="1.1"/>
<rect x="130.25" y="358.81" width="4.30" height="4.30" fill="none" stroke="#111" stroke-width="1.1"/>
<rect x="136.54" y="344.91" width="4.30" height="4.30" fill="none" stroke="#111" stroke-width="1.1"/>
<rect x="142.84" y="330.52" width="4.30" height="4.30" fill="none" stroke="#111" stroke-width="1.1"/>
<rect x="152.28" y="318.12" width="4.30" height="4.30" fill="none" stroke="#111" stroke-width="1.1"/>
<rect x="161.72" y="309.18" width="4.30" height="4.30" fill="none" stroke="#111" stroke-width="1.1"/>
<polyline points="104.08,381.80 110.37,379.81 119.81,370.88 126.11,364.93 132.40,356.00 138.69,344.09 144.99,324.24 154.43,313.32 163.87,298.43" fill="none" stroke="#111" stroke-width="1.2" stroke-linejoin="miter"/>
<line x1="119.81" y1="368.90" x2="119.81" y2="372.87" stroke="#111" stroke-width="1.1" stroke-linecap="butt"/>
<line x1="116.91" y1="368.90" x2="122.71" y2="368.90" stroke="#111" stroke-width="1.1" stroke-linecap="butt"/>
<line x1="116.91" y1="372.87" x2="122.71" y2="372.87" stroke="#111" stroke-width="1.1" stroke-linecap="butt"/>
<line x1="126.11" y1="361.95" x2="126.11" y2="367.91" stroke="#111" stroke-width="1.1" stroke-linecap="butt"/>
<line x1="123.20" y1="361.95" x2="129.00" y2="361.95" stroke="#111" stroke-width="1.1" stroke-linecap="butt"/>
<line x1="123.20" y1="367.91" x2="129.00" y2="367.91" stroke="#111" stroke-width="1.1" stroke-linecap="butt"/>
<line x1="132.40" y1="352.03" x2="132.40" y2="359.97" stroke="#111" stroke-width="1.1" stroke-linecap="butt"/>
<line x1="129.50" y1="352.03" x2="135.30" y2="352.03" stroke="#111" stroke-width="1.1" stroke-linecap="butt"/>
<line x1="129.50" y1="359.97" x2="135.30" y2="359.97" stroke="#111" stroke-width="1.1" stroke-linecap="butt"/>
<line x1="138.69" y1="339.12" x2="138.69" y2="349.05" stroke="#111" stroke-width="1.1" stroke-linecap="butt"/>
<line x1="135.79" y1="339.12" x2="141.59" y2="339.12" stroke="#111" stroke-width="1.1" stroke-linecap="butt"/>
<line x1="135.79" y1="349.05" x2="141.59" y2="349.05" stroke="#111" stroke-width="1.1" stroke-linecap="butt"/>
<line x1="144.99" y1="312.32" x2="144.99" y2="336.14" stroke="#111" stroke-width="1.1" stroke-linecap="butt"/>
<line x1="142.09" y1="312.32" x2="147.89" y2="312.32" stroke="#111" stroke-width="1.1" stroke-linecap="butt"/>
<line x1="142.09" y1="336.14" x2="147.89" y2="336.14" stroke="#111" stroke-width="1.1" stroke-linecap="butt"/>
<line x1="154.43" y1="302.40" x2="154.43" y2="324.24" stroke="#111" stroke-width="1.1" stroke-linecap="butt"/>
<line x1="151.53" y1="302.40" x2="157.33" y2="302.40" stroke="#111" stroke-width="1.1" stroke-linecap="butt"/>
<line x1="151.53" y1="324.24" x2="157.33" y2="324.24" stroke="#111" stroke-width="1.1" stroke-linecap="butt"/>
<line x1="163.87" y1="289.00" x2="163.87" y2="307.86" stroke="#111" stroke-width="1.1" stroke-linecap="butt"/>
<line x1="160.97" y1="289.00" x2="166.77" y2="289.00" stroke="#111" stroke-width="1.1" stroke-linecap="butt"/>
<line x1="160.97" y1="307.86" x2="166.77" y2="307.86" stroke="#111" stroke-width="1.1" stroke-linecap="butt"/>
<circle cx="104.08" cy="381.80" r="2.60" fill="#111"/>
<circle cx="110.37" cy="379.81" r="2.60" fill="#111"/>
<circle cx="119.81" cy="370.88" r="2.60" fill="#111"/>
<circle cx="126.11" cy="364.93" r="2.60" fill="#111"/>
<circle cx="132.40" cy="356.00" r="2.60" fill="#111"/>
<circle cx="138.69" cy="344.09" r="2.60" fill="#111"/>
<circle cx="144.99" cy="324.24" r="2.60" fill="#111"/>
<circle cx="154.43" cy="313.32" r="2.60" fill="#111"/>
<circle cx="163.87" cy="298.43" r="2.60" fill="#111"/>
<polyline points="104.08,381.80 110.37,381.80 119.81,381.80 126.11,381.80 132.40,381.80 138.69,381.80 144.99,381.80 154.43,380.81 163.87,380.81" fill="none" stroke="#111" stroke-width="1.2" stroke-linejoin="miter"/>
<rect x="101.68" y="379.40" width="4.80" height="4.80" fill="#111"/>
<rect x="107.97" y="379.40" width="4.80" height="4.80" fill="#111"/>
<rect x="117.41" y="379.40" width="4.80" height="4.80" fill="#111"/>
<rect x="123.70" y="379.40" width="4.80" height="4.80" fill="#111"/>
<rect x="130.00" y="379.40" width="4.80" height="4.80" fill="#111"/>
<rect x="136.29" y="379.40" width="4.80" height="4.80" fill="#111"/>
<rect x="142.59" y="379.40" width="4.80" height="4.80" fill="#111"/>
<rect x="152.03" y="378.41" width="4.80" height="4.80" fill="#111"/>
<rect x="161.47" y="378.41" width="4.80" height="4.80" fill="#111"/>
<text x="163.70" y="380.50" font-size="11" text-anchor="middle" fill="#111" stroke="#111" stroke-width="0.3">****</text>
<line x1="243.30" y1="277.90" x2="243.30" y2="380.70" stroke="#111" stroke-width="1.35" stroke-linecap="butt"/>
<line x1="242.70" y1="380.10" x2="381.09" y2="380.10" stroke="#111" stroke-width="1.35" stroke-linecap="butt"/>
<line x1="243.30" y1="380.10" x2="243.30" y2="383.20" stroke="#111" stroke-width="1.2" stroke-linecap="butt"/>
<text transform="translate(243.30,392.90) scale(1.0,1)" font-size="9.8" text-anchor="middle" fill="#111" stroke="#111" stroke-width="0.3">0</text>
<line x1="289.03" y1="380.10" x2="289.03" y2="383.20" stroke="#111" stroke-width="1.2" stroke-linecap="butt"/>
<text transform="translate(289.03,392.90) scale(1.0,1)" font-size="9.8" text-anchor="middle" fill="#111" stroke="#111" stroke-width="0.3">10</text>
<line x1="334.76" y1="380.10" x2="334.76" y2="383.20" stroke="#111" stroke-width="1.2" stroke-linecap="butt"/>
<text transform="translate(334.76,392.90) scale(1.0,1)" font-size="9.8" text-anchor="middle" fill="#111" stroke="#111" stroke-width="0.3">20</text>
<line x1="380.49" y1="380.10" x2="380.49" y2="383.20" stroke="#111" stroke-width="1.2" stroke-linecap="butt"/>
<text transform="translate(380.49,392.90) scale(1.0,1)" font-size="9.8" text-anchor="middle" fill="#111" stroke="#111" stroke-width="0.3">30</text>
<line x1="240.30" y1="380.10" x2="243.30" y2="380.10" stroke="#111" stroke-width="1.2" stroke-linecap="butt"/>
<text transform="translate(239.60,383.20) scale(1.03,1)" font-size="9.0" text-anchor="end" fill="#111" stroke="#111" stroke-width="0.3">0</text>
<line x1="240.30" y1="329.30" x2="243.30" y2="329.30" stroke="#111" stroke-width="1.2" stroke-linecap="butt"/>
<text transform="translate(239.60,332.40) scale(1.03,1)" font-size="9.0" text-anchor="end" fill="#111" stroke="#111" stroke-width="0.3">50</text>
<line x1="240.30" y1="278.50" x2="243.30" y2="278.50" stroke="#111" stroke-width="1.2" stroke-linecap="butt"/>
<text transform="translate(239.60,281.60) scale(1.03,1)" font-size="9.0" text-anchor="end" fill="#111" stroke="#111" stroke-width="0.3">100</text>
<text transform="translate(213.80,384.60) rotate(-90)" font-size="10.7" text-anchor="start" fill="#111" stroke="#111" stroke-width="0.3" textLength="112.6" lengthAdjust="spacingAndGlyphs">Tumor-free survival (%)</text>
<text x="254.20" y="407.20" font-size="10.7" text-anchor="start" fill="#111" stroke="#111" stroke-width="0.3" textLength="116.0" lengthAdjust="spacingAndGlyphs">Day after tumor injection</text>
<polyline points="243.30,278.50 302.75,278.50 302.75,288.66 366.77,288.66 366.77,288.66" fill="none" stroke="#111" stroke-width="1.65" stroke-linejoin="miter"/>
<rect x="300.35" y="286.26" width="4.80" height="4.80" fill="#111"/>
<rect x="364.37" y="286.26" width="4.80" height="4.80" fill="#111"/>
<polyline points="289.03,278.50 289.03,278.50 289.03,308.98 302.75,308.98 302.75,359.78 366.77,359.78 366.77,359.78" fill="none" stroke="#111" stroke-width="1.65" stroke-linejoin="miter"/>
<rect x="286.58" y="306.53" width="4.90" height="4.90" fill="none" stroke="#111" stroke-width="1.3"/>
<rect x="300.30" y="357.33" width="4.90" height="4.90" fill="none" stroke="#111" stroke-width="1.3"/>
<rect x="364.32" y="357.33" width="4.90" height="4.90" fill="none" stroke="#111" stroke-width="1.3"/>
<polyline points="279.88,278.50 279.88,278.50 279.88,323.71 289.03,323.71 289.03,335.40 302.75,335.40 302.75,357.75 330.19,357.75 330.19,368.92 366.77,368.92 366.77,368.92" fill="none" stroke="#111" stroke-width="1.65" stroke-linejoin="miter"/>
<circle cx="279.88" cy="323.71" r="2.50" fill="#111"/>
<circle cx="289.03" cy="335.40" r="2.50" fill="#111"/>
<circle cx="302.75" cy="357.75" r="2.50" fill="#111"/>
<circle cx="330.19" cy="368.92" r="2.50" fill="#111"/>
<circle cx="366.77" cy="368.92" r="2.50" fill="#111"/>
<polyline points="279.88,291.20 279.88,291.20 279.88,291.20 289.03,291.20 289.03,367.40 302.75,367.40 302.75,380.10" fill="none" stroke="#111" stroke-width="1.65" stroke-linejoin="miter"/>
<circle cx="279.88" cy="291.20" r="2.35" fill="none" stroke="#111" stroke-width="1.3"/>
<circle cx="289.03" cy="367.40" r="2.35" fill="none" stroke="#111" stroke-width="1.3"/>
<circle cx="302.75" cy="380.10" r="2.35" fill="none" stroke="#111" stroke-width="1.3"/>
<text x="358.10" y="290.10" font-size="11.8" text-anchor="middle" fill="#111" stroke="#111" stroke-width="0.3">**</text>
<line x1="398.20" y1="278.20" x2="410.20" y2="278.20" stroke="#111" stroke-width="1.5" stroke-linecap="butt"/>
<circle cx="404.10" cy="278.20" r="2.35" fill="none" stroke="#111" stroke-width="1.3"/>
<text x="414.50" y="281.80" font-size="10.0" text-anchor="start" fill="#111" stroke="#111" stroke-width="0.3" textLength="79.5" lengthAdjust="spacingAndGlyphs">VRP–GFP+isotype</text>
<line x1="398.20" y1="289.90" x2="410.20" y2="289.90" stroke="#111" stroke-width="1.5" stroke-linecap="butt"/>
<rect x="401.75" y="287.55" width="4.70" height="4.70" fill="none" stroke="#111" stroke-width="1.3"/>
<text x="414.50" y="293.50" font-size="10.0" text-anchor="start" fill="#111" stroke="#111" stroke-width="0.3" textLength="84.0" lengthAdjust="spacingAndGlyphs">VRP–TRP2+isotype</text>
<line x1="398.20" y1="301.80" x2="410.20" y2="301.80" stroke="#111" stroke-width="1.5" stroke-linecap="butt"/>
<circle cx="404.10" cy="301.80" r="2.50" fill="#111"/>
<text x="414.50" y="305.40" font-size="10.0" text-anchor="start" fill="#111" stroke="#111" stroke-width="0.3" textLength="78.5" lengthAdjust="spacingAndGlyphs">VRP–GFP+αGITR</text>
<line x1="398.20" y1="313.50" x2="410.20" y2="313.50" stroke="#111" stroke-width="1.5" stroke-linecap="butt"/>
<rect x="401.60" y="311.00" width="5.00" height="5.00" fill="#111"/>
<text x="414.50" y="317.10" font-size="10.0" text-anchor="start" fill="#111" stroke="#111" stroke-width="0.3" textLength="83.2" lengthAdjust="spacingAndGlyphs">VRP–TRP2+αGITR</text>
<line x1="79.60" y1="522.80" x2="79.60" y2="619.10" stroke="#111" stroke-width="1.35" stroke-linecap="butt"/>
<line x1="79.00" y1="618.50" x2="171.19" y2="618.50" stroke="#111" stroke-width="1.35" stroke-linecap="butt"/>
<line x1="79.60" y1="618.50" x2="79.60" y2="621.60" stroke="#111" stroke-width="1.2" stroke-linecap="butt"/>
<text transform="translate(79.60,630.90) scale(1.0,1)" font-size="10.0" text-anchor="middle" fill="#111" stroke="#111" stroke-width="0.3">0</text>
<line x1="109.93" y1="618.50" x2="109.93" y2="621.60" stroke="#111" stroke-width="1.2" stroke-linecap="butt"/>
<text transform="translate(109.93,630.90) scale(1.0,1)" font-size="10.0" text-anchor="middle" fill="#111" stroke="#111" stroke-width="0.3">10</text>
<line x1="140.26" y1="618.50" x2="140.26" y2="621.60" stroke="#111" stroke-width="1.2" stroke-linecap="butt"/>
<text transform="translate(140.26,630.90) scale(1.0,1)" font-size="10.0" text-anchor="middle" fill="#111" stroke="#111" stroke-width="0.3">20</text>
<line x1="170.59" y1="618.50" x2="170.59" y2="621.60" stroke="#111" stroke-width="1.2" stroke-linecap="butt"/>
<text transform="translate(170.59,630.90) scale(1.0,1)" font-size="10.0" text-anchor="middle" fill="#111" stroke="#111" stroke-width="0.3">30</text>
<line x1="76.60" y1="618.50" x2="79.60" y2="618.50" stroke="#111" stroke-width="1.2" stroke-linecap="butt"/>
<text transform="translate(76.20,621.60) scale(1.03,1)" font-size="9.0" text-anchor="end" fill="#111" stroke="#111" stroke-width="0.3">0</text>
<line x1="76.60" y1="599.48" x2="79.60" y2="599.48" stroke="#111" stroke-width="1.2" stroke-linecap="butt"/>
<text transform="translate(76.20,602.58) scale(1.03,1)" font-size="9.0" text-anchor="end" fill="#111" stroke="#111" stroke-width="0.3">20</text>
<line x1="76.60" y1="580.46" x2="79.60" y2="580.46" stroke="#111" stroke-width="1.2" stroke-linecap="butt"/>
<text transform="translate(76.20,583.56) scale(1.03,1)" font-size="9.0" text-anchor="end" fill="#111" stroke="#111" stroke-width="0.3">40</text>
<line x1="76.60" y1="561.44" x2="79.60" y2="561.44" stroke="#111" stroke-width="1.2" stroke-linecap="butt"/>
<text transform="translate(76.20,564.54) scale(1.03,1)" font-size="9.0" text-anchor="end" fill="#111" stroke="#111" stroke-width="0.3">60</text>
<line x1="76.60" y1="542.42" x2="79.60" y2="542.42" stroke="#111" stroke-width="1.2" stroke-linecap="butt"/>
<text transform="translate(76.20,545.52) scale(1.03,1)" font-size="9.0" text-anchor="end" fill="#111" stroke="#111" stroke-width="0.3">80</text>
<line x1="76.60" y1="523.40" x2="79.60" y2="523.40" stroke="#111" stroke-width="1.2" stroke-linecap="butt"/>
<text transform="translate(76.20,526.50) scale(1.03,1)" font-size="9.0" text-anchor="end" fill="#111" stroke="#111" stroke-width="0.3">100</text>
<text transform="translate(56.40,624.90) rotate(-90)" font-size="10.7" text-anchor="start" fill="#111" stroke="#111" stroke-width="0.3" textLength="98.1" lengthAdjust="spacingAndGlyphs">Tumor growth (mm<tspan font-size="6.5" dy="-3.6">2</tspan><tspan dy="3.6">)</tspan></text>
<text x="68.40" y="644.30" font-size="10.7" text-anchor="start" fill="#111" stroke="#111" stroke-width="0.3" textLength="116.0" lengthAdjust="spacingAndGlyphs">Day after tumor injection</text>
<polyline points="97.80,618.50 109.93,613.75 119.03,608.99 131.16,567.62 143.29,545.27 161.49,535.29" fill="none" stroke="#111" stroke-width="1.2" stroke-linejoin="miter"/>
<line x1="131.16" y1="558.11" x2="131.16" y2="577.13" stroke="#111" stroke-width="1.1" stroke-linecap="butt"/>
<line x1="128.26" y1="558.11" x2="134.06" y2="558.11" stroke="#111" stroke-width="1.1" stroke-linecap="butt"/>
<line x1="128.26" y1="577.13" x2="134.06" y2="577.13" stroke="#111" stroke-width="1.1" stroke-linecap="butt"/>
<line x1="143.29" y1="533.39" x2="143.29" y2="557.16" stroke="#111" stroke-width="1.1" stroke-linecap="butt"/>
<line x1="140.39" y1="533.39" x2="146.19" y2="533.39" stroke="#111" stroke-width="1.1" stroke-linecap="butt"/>
<line x1="140.39" y1="557.16" x2="146.19" y2="557.16" stroke="#111" stroke-width="1.1" stroke-linecap="butt"/>
<line x1="161.49" y1="525.78" x2="161.49" y2="544.80" stroke="#111" stroke-width="1.1" stroke-linecap="butt"/>
<line x1="158.59" y1="525.78" x2="164.39" y2="525.78" stroke="#111" stroke-width="1.1" stroke-linecap="butt"/>
<line x1="158.59" y1="544.80" x2="164.39" y2="544.80" stroke="#111" stroke-width="1.1" stroke-linecap="butt"/>
<circle cx="97.80" cy="618.50" r="2.45" fill="none" stroke="#111" stroke-width="1.1"/>
<circle cx="109.93" cy="613.75" r="2.45" fill="none" stroke="#111" stroke-width="1.1"/>
<circle cx="119.03" cy="608.99" r="2.45" fill="none" stroke="#111" stroke-width="1.1"/>
<circle cx="131.16" cy="567.62" r="2.45" fill="none" stroke="#111" stroke-width="1.1"/>
<circle cx="143.29" cy="545.27" r="2.45" fill="none" stroke="#111" stroke-width="1.1"/>
<circle cx="161.49" cy="535.29" r="2.45" fill="none" stroke="#111" stroke-width="1.1"/>
<polyline points="97.80,618.50 109.93,615.65 119.03,610.89 131.16,597.58 143.29,578.56 161.49,561.44" fill="none" stroke="#111" stroke-width="1.2" stroke-linejoin="miter"/>
<line x1="131.16" y1="592.82" x2="131.16" y2="602.33" stroke="#111" stroke-width="1.1" stroke-linecap="butt"/>
<line x1="128.26" y1="592.82" x2="134.06" y2="592.82" stroke="#111" stroke-width="1.1" stroke-linecap="butt"/>
<line x1="128.26" y1="602.33" x2="134.06" y2="602.33" stroke="#111" stroke-width="1.1" stroke-linecap="butt"/>
<line x1="143.29" y1="568.10" x2="143.29" y2="589.02" stroke="#111" stroke-width="1.1" stroke-linecap="butt"/>
<line x1="140.39" y1="568.10" x2="146.19" y2="568.10" stroke="#111" stroke-width="1.1" stroke-linecap="butt"/>
<line x1="140.39" y1="589.02" x2="146.19" y2="589.02" stroke="#111" stroke-width="1.1" stroke-linecap="butt"/>
<line x1="161.49" y1="550.98" x2="161.49" y2="571.90" stroke="#111" stroke-width="1.1" stroke-linecap="butt"/>
<line x1="158.59" y1="550.98" x2="164.39" y2="550.98" stroke="#111" stroke-width="1.1" stroke-linecap="butt"/>
<line x1="158.59" y1="571.90" x2="164.39" y2="571.90" stroke="#111" stroke-width="1.1" stroke-linecap="butt"/>
<rect x="95.55" y="616.25" width="4.50" height="4.50" fill="none" stroke="#111" stroke-width="1.1"/>
<rect x="107.68" y="613.40" width="4.50" height="4.50" fill="none" stroke="#111" stroke-width="1.1"/>
<rect x="116.78" y="608.64" width="4.50" height="4.50" fill="none" stroke="#111" stroke-width="1.1"/>
<rect x="128.91" y="595.33" width="4.50" height="4.50" fill="none" stroke="#111" stroke-width="1.1"/>
<rect x="141.04" y="576.31" width="4.50" height="4.50" fill="none" stroke="#111" stroke-width="1.1"/>
<rect x="159.24" y="559.19" width="4.50" height="4.50" fill="none" stroke="#111" stroke-width="1.1"/>
<polyline points="97.80,618.50 109.93,613.75 119.03,609.94 131.16,592.35 143.29,577.61 161.49,564.29" fill="none" stroke="#111" stroke-width="1.2" stroke-linejoin="miter"/>
<line x1="131.16" y1="583.79" x2="131.16" y2="600.91" stroke="#111" stroke-width="1.1" stroke-linecap="butt"/>
<line x1="128.26" y1="583.79" x2="134.06" y2="583.79" stroke="#111" stroke-width="1.1" stroke-linecap="butt"/>
<line x1="128.26" y1="600.91" x2="134.06" y2="600.91" stroke="#111" stroke-width="1.1" stroke-linecap="butt"/>
<line x1="143.29" y1="565.24" x2="143.29" y2="589.97" stroke="#111" stroke-width="1.1" stroke-linecap="butt"/>
<line x1="140.39" y1="565.24" x2="146.19" y2="565.24" stroke="#111" stroke-width="1.1" stroke-linecap="butt"/>
<line x1="140.39" y1="589.97" x2="146.19" y2="589.97" stroke="#111" stroke-width="1.1" stroke-linecap="butt"/>
<line x1="161.49" y1="551.45" x2="161.49" y2="577.13" stroke="#111" stroke-width="1.1" stroke-linecap="butt"/>
<line x1="158.59" y1="551.45" x2="164.39" y2="551.45" stroke="#111" stroke-width="1.1" stroke-linecap="butt"/>
<line x1="158.59" y1="577.13" x2="164.39" y2="577.13" stroke="#111" stroke-width="1.1" stroke-linecap="butt"/>
<circle cx="97.80" cy="618.50" r="2.60" fill="#111"/>
<circle cx="109.93" cy="613.75" r="2.60" fill="#111"/>
<circle cx="119.03" cy="609.94" r="2.60" fill="#111"/>
<circle cx="131.16" cy="592.35" r="2.60" fill="#111"/>
<circle cx="143.29" cy="577.61" r="2.60" fill="#111"/>
<circle cx="161.49" cy="564.29" r="2.60" fill="#111"/>
<polyline points="97.80,618.50 109.93,617.55 119.03,616.60 131.16,612.79 143.29,609.94 161.49,599.00" fill="none" stroke="#111" stroke-width="1.2" stroke-linejoin="miter"/>
<line x1="143.29" y1="607.09" x2="143.29" y2="612.79" stroke="#111" stroke-width="1.1" stroke-linecap="butt"/>
<line x1="140.39" y1="607.09" x2="146.19" y2="607.09" stroke="#111" stroke-width="1.1" stroke-linecap="butt"/>
<line x1="140.39" y1="612.79" x2="146.19" y2="612.79" stroke="#111" stroke-width="1.1" stroke-linecap="butt"/>
<line x1="161.49" y1="592.35" x2="161.49" y2="605.66" stroke="#111" stroke-width="1.1" stroke-linecap="butt"/>
<line x1="158.59" y1="592.35" x2="164.39" y2="592.35" stroke="#111" stroke-width="1.1" stroke-linecap="butt"/>
<line x1="158.59" y1="605.66" x2="164.39" y2="605.66" stroke="#111" stroke-width="1.1" stroke-linecap="butt"/>
<rect x="95.30" y="616.00" width="5.00" height="5.00" fill="#111"/>
<rect x="107.43" y="615.05" width="5.00" height="5.00" fill="#111"/>
<rect x="116.53" y="614.10" width="5.00" height="5.00" fill="#111"/>
<rect x="128.66" y="610.29" width="5.00" height="5.00" fill="#111"/>
<rect x="140.79" y="607.44" width="5.00" height="5.00" fill="#111"/>
<rect x="158.99" y="596.50" width="5.00" height="5.00" fill="#111"/>
<text x="162.10" y="593.70" font-size="11" text-anchor="middle" fill="#111" stroke="#111" stroke-width="0.3">****</text>
<line x1="242.30" y1="510.80" x2="242.30" y2="616.90" stroke="#111" stroke-width="1.35" stroke-linecap="butt"/>
<line x1="241.70" y1="616.30" x2="384.29" y2="616.30" stroke="#111" stroke-width="1.35" stroke-linecap="butt"/>
<line x1="242.30" y1="616.30" x2="242.30" y2="619.40" stroke="#111" stroke-width="1.2" stroke-linecap="butt"/>
<text transform="translate(242.30,629.70) scale(1.0,1)" font-size="10.0" text-anchor="middle" fill="#111" stroke="#111" stroke-width="0.3">0</text>
<line x1="289.43" y1="616.30" x2="289.43" y2="619.40" stroke="#111" stroke-width="1.2" stroke-linecap="butt"/>
<text transform="translate(289.43,629.70) scale(1.0,1)" font-size="10.0" text-anchor="middle" fill="#111" stroke="#111" stroke-width="0.3">10</text>
<line x1="336.56" y1="616.30" x2="336.56" y2="619.40" stroke="#111" stroke-width="1.2" stroke-linecap="butt"/>
<text transform="translate(336.56,629.70) scale(1.0,1)" font-size="10.0" text-anchor="middle" fill="#111" stroke="#111" stroke-width="0.3">20</text>
<line x1="383.69" y1="616.30" x2="383.69" y2="619.40" stroke="#111" stroke-width="1.2" stroke-linecap="butt"/>
<text transform="translate(383.69,629.70) scale(1.0,1)" font-size="10.0" text-anchor="middle" fill="#111" stroke="#111" stroke-width="0.3">30</text>
<line x1="239.30" y1="616.30" x2="242.30" y2="616.30" stroke="#111" stroke-width="1.2" stroke-linecap="butt"/>
<text transform="translate(238.30,619.40) scale(1.03,1)" font-size="9.0" text-anchor="end" fill="#111" stroke="#111" stroke-width="0.3">0</text>
<line x1="239.30" y1="563.85" x2="242.30" y2="563.85" stroke="#111" stroke-width="1.2" stroke-linecap="butt"/>
<text transform="translate(238.30,566.95) scale(1.03,1)" font-size="9.0" text-anchor="end" fill="#111" stroke="#111" stroke-width="0.3">50</text>
<line x1="239.30" y1="511.40" x2="242.30" y2="511.40" stroke="#111" stroke-width="1.2" stroke-linecap="butt"/>
<text transform="translate(238.30,514.50) scale(1.03,1)" font-size="9.0" text-anchor="end" fill="#111" stroke="#111" stroke-width="0.3">100</text>
<text transform="translate(216.00,619.80) rotate(-90)" font-size="10.7" text-anchor="start" fill="#111" stroke="#111" stroke-width="0.3" textLength="112.8" lengthAdjust="spacingAndGlyphs">Tumor-free survival (%)</text>
<text x="256.00" y="643.60" font-size="10.7" text-anchor="start" fill="#111" stroke="#111" stroke-width="0.3" textLength="115.0" lengthAdjust="spacingAndGlyphs">Day after tumor injection</text>
<polyline points="242.30,511.40 289.43,511.40 289.43,532.38 303.57,532.38 303.57,539.72 322.42,539.72 322.42,560.70 369.55,560.70 369.55,560.70" fill="none" stroke="#111" stroke-width="1.65" stroke-linejoin="miter"/>
<rect x="286.93" y="529.88" width="5.00" height="5.00" fill="#111"/>
<rect x="301.07" y="537.22" width="5.00" height="5.00" fill="#111"/>
<rect x="319.92" y="558.20" width="5.00" height="5.00" fill="#111"/>
<rect x="367.05" y="558.20" width="5.00" height="5.00" fill="#111"/>
<polyline points="289.43,532.38 289.43,532.38 289.43,563.85 303.57,563.85 303.57,584.83 369.55,584.83 369.55,584.83" fill="none" stroke="#111" stroke-width="1.65" stroke-linejoin="miter"/>
<circle cx="289.43" cy="563.85" r="2.50" fill="#111"/>
<circle cx="303.57" cy="584.83" r="2.50" fill="#111"/>
<circle cx="369.55" cy="584.83" r="2.50" fill="#111"/>
<polyline points="289.43,563.85 289.43,563.85 289.43,574.34 303.57,574.34 303.57,581.68 322.42,581.68 322.42,587.98 341.27,587.98 341.27,595.32 369.55,595.32 369.55,595.32" fill="none" stroke="#111" stroke-width="1.65" stroke-linejoin="miter"/>
<rect x="286.98" y="571.89" width="4.90" height="4.90" fill="none" stroke="#111" stroke-width="1.3"/>
<rect x="301.12" y="579.23" width="4.90" height="4.90" fill="none" stroke="#111" stroke-width="1.3"/>
<rect x="319.97" y="585.53" width="4.90" height="4.90" fill="none" stroke="#111" stroke-width="1.3"/>
<rect x="338.82" y="592.87" width="4.90" height="4.90" fill="none" stroke="#111" stroke-width="1.3"/>
<rect x="367.10" y="592.87" width="4.90" height="4.90" fill="none" stroke="#111" stroke-width="1.3"/>
<polyline points="289.43,574.34 289.43,574.34 289.43,584.83 303.57,584.83 303.57,595.32 322.42,595.32 322.42,605.81 369.55,605.81 369.55,605.81" fill="none" stroke="#111" stroke-width="1.65" stroke-linejoin="miter"/>
<circle cx="289.43" cy="584.83" r="2.45" fill="none" stroke="#111" stroke-width="1.3"/>
<circle cx="303.57" cy="595.32" r="2.45" fill="none" stroke="#111" stroke-width="1.3"/>
<circle cx="322.42" cy="605.81" r="2.45" fill="none" stroke="#111" stroke-width="1.3"/>
<circle cx="369.55" cy="605.81" r="2.45" fill="none" stroke="#111" stroke-width="1.3"/>
<text x="370.60" y="558.10" font-size="11.8" text-anchor="middle" fill="#111" stroke="#111" stroke-width="0.3">*</text>
<line x1="387.00" y1="510.80" x2="399.20" y2="510.80" stroke="#111" stroke-width="1.5" stroke-linecap="butt"/>
<circle cx="393.05" cy="510.80" r="2.35" fill="none" stroke="#111" stroke-width="1.3"/>
<text x="405.60" y="514.40" font-size="10.0" text-anchor="start" fill="#111" stroke="#111" stroke-width="0.3" textLength="82.5" lengthAdjust="spacingAndGlyphs">VRP–GFP+isotype</text>
<line x1="387.00" y1="523.10" x2="399.20" y2="523.10" stroke="#111" stroke-width="1.5" stroke-linecap="butt"/>
<rect x="390.70" y="520.75" width="4.70" height="4.70" fill="none" stroke="#111" stroke-width="1.3"/>
<text x="405.60" y="526.70" font-size="10.0" text-anchor="start" fill="#111" stroke="#111" stroke-width="0.3" textLength="87.0" lengthAdjust="spacingAndGlyphs">VRP–TRP2+isotype</text>
<line x1="387.00" y1="535.40" x2="399.20" y2="535.40" stroke="#111" stroke-width="1.5" stroke-linecap="butt"/>
<circle cx="393.05" cy="535.40" r="2.50" fill="#111"/>
<text x="405.60" y="539.00" font-size="10.0" text-anchor="start" fill="#111" stroke="#111" stroke-width="0.3" textLength="92.0" lengthAdjust="spacingAndGlyphs">VRP–GFP+αCTLA-4</text>
<line x1="387.00" y1="547.50" x2="399.20" y2="547.50" stroke="#111" stroke-width="1.5" stroke-linecap="butt"/>
<rect x="390.55" y="545.00" width="5.00" height="5.00" fill="#111"/>
<text x="405.60" y="551.10" font-size="10.0" text-anchor="start" fill="#111" stroke="#111" stroke-width="0.3" textLength="96.8" lengthAdjust="spacingAndGlyphs">VRP–TRP2+αCTLA-4</text>
</svg>
</body>
</html>
